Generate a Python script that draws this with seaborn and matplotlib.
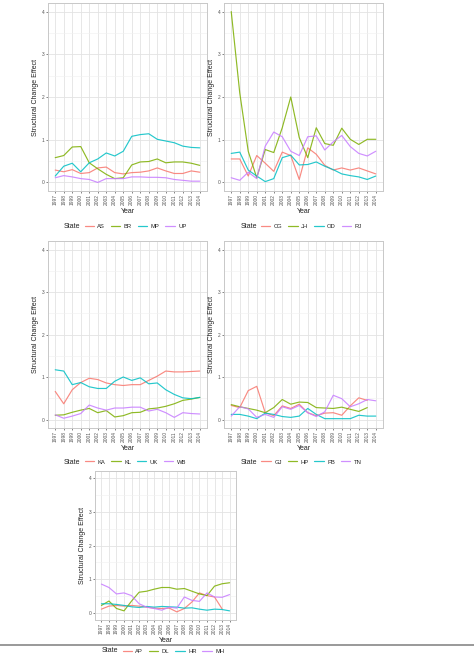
import numpy as np
import pandas as pd
import matplotlib.pyplot as plt
from matplotlib.lines import Line2D
from matplotlib.ticker import MultipleLocator
import seaborn as sns

years = list(range(1997, 2015))
nan = np.nan

# panel 1
AS = [0.29, 0.25, 0.30, 0.21, 0.23, 0.34, 0.36, 0.23, 0.20, 0.23, 0.24, 0.27, 0.34, 0.27, 0.21, 0.21, 0.27, 0.24]
BR = [0.58, 0.63, 0.83, 0.84, 0.46, 0.32, 0.19, 0.09, 0.11, 0.41, 0.48, 0.49, 0.55, 0.46, 0.48, 0.48, 0.45, 0.40]
MP = [0.15, 0.38, 0.45, 0.25, 0.46, 0.55, 0.69, 0.62, 0.73, 1.08, 1.12, 1.14, 1.01, 0.97, 0.93, 0.85, 0.82, 0.81]
UP = [0.11, 0.16, 0.13, 0.09, 0.07, 0.00, 0.09, 0.09, 0.09, 0.13, 0.13, 0.12, 0.12, 0.11, 0.07, 0.05, 0.03, 0.03]

# panel 2
CG = [0.55, 0.55, 0.15, 0.63, 0.45, 0.26, 0.71, 0.63, 0.07, 0.81, 0.66, 0.40, 0.29, 0.34, 0.29, 0.34, 0.27, 0.20]
JH = [4.00, 2.10, 0.73, 0.11, 0.77, 0.70, 1.28, 2.00, 1.05, 0.58, 1.28, 0.91, 0.87, 1.27, 1.01, 0.89, 1.01, 1.01]
OD = [0.68, 0.71, 0.29, 0.15, 0.02, 0.09, 0.58, 0.64, 0.41, 0.42, 0.48, 0.38, 0.30, 0.20, 0.16, 0.13, 0.07, 0.15]
RJ = [0.11, 0.05, 0.24, 0.09, 0.85, 1.18, 1.07, 0.73, 0.63, 1.07, 1.09, 0.76, 0.95, 1.10, 0.84, 0.68, 0.62, 0.73]

# panel 3
KA = [0.66, 0.37, 0.70, 0.87, 0.97, 0.94, 0.86, 0.82, 0.80, 0.82, 0.82, 0.92, 1.02, 1.14, 1.12, 1.12, 1.13, 1.14]
KL = [0.10, 0.11, 0.17, 0.22, 0.26, 0.16, 0.21, 0.06, 0.09, 0.16, 0.17, 0.25, 0.27, 0.31, 0.37, 0.45, 0.48, 0.52]
UK = [1.17, 1.14, 0.82, 0.87, 0.77, 0.73, 0.73, 0.90, 1.00, 0.92, 0.98, 0.84, 0.86, 0.70, 0.59, 0.51, 0.49, 0.52]
WB = [0.11, 0.03, 0.08, 0.14, 0.34, 0.27, 0.22, 0.27, 0.27, 0.29, 0.29, 0.20, 0.24, 0.16, 0.05, 0.16, 0.14, 0.13]

# panel 4
GJ = [0.33, 0.28, 0.68, 0.78, 0.16, 0.09, 0.32, 0.26, 0.36, 0.16, 0.09, 0.15, 0.16, 0.10, 0.32, 0.51, 0.45, nan]
HP = [0.35, 0.30, 0.26, 0.22, 0.16, 0.28, 0.47, 0.36, 0.41, 0.40, 0.28, 0.27, 0.26, 0.29, 0.24, 0.19, 0.28, nan]
PB = [0.12, 0.12, 0.08, 0.02, 0.15, 0.12, 0.07, 0.05, 0.08, 0.26, 0.12, 0.02, 0.02, 0.02, 0.02, 0.10, 0.08, 0.08]
TN = [0.08, 0.30, 0.25, 0.05, 0.12, 0.05, 0.30, 0.24, 0.33, 0.16, 0.07, 0.18, 0.57, 0.49, 0.30, 0.37, 0.47, 0.44]

# panel 5
AP = [0.12, 0.21, 0.23, 0.21, 0.23, 0.21, 0.18, 0.15, 0.14, 0.15, 0.04, 0.14, 0.33, 0.60, 0.52, 0.48, 0.13, nan]
DL = [0.23, 0.36, 0.14, 0.07, 0.36, 0.62, 0.65, 0.71, 0.76, 0.76, 0.71, 0.73, 0.65, 0.57, 0.52, 0.80, 0.87, 0.90]
HR = [0.28, 0.28, 0.26, 0.23, 0.19, 0.17, 0.20, 0.18, 0.20, 0.19, 0.18, 0.15, 0.16, 0.12, 0.09, 0.12, 0.11, 0.07]
MH = [0.86, 0.76, 0.57, 0.60, 0.52, 0.28, 0.18, 0.14, 0.09, 0.18, 0.15, 0.48, 0.38, 0.35, 0.60, 0.48, 0.47, 0.55]

panels = [
    {"AS": AS, "BR": BR, "MP": MP, "UP": UP},
    {"CG": CG, "JH": JH, "OD": OD, "RJ": RJ},
    {"KA": KA, "KL": KL, "UK": UK, "WB": WB},
    {"GJ": GJ, "HP": HP, "PB": PB, "TN": TN},
    {"AP": AP, "DL": DL, "HR": HR, "MH": MH},
]

palette = ["#F8766D", "#7CAE00", "#00BFC4", "#C77CFF"]

sns.set_style("white")
plt.rcParams["font.family"] = ["Liberation Sans", "DejaVu Sans"]

W, H = 474, 656
fig = plt.figure(figsize=(W / 100, H / 100), dpi=100)

# [left, top, right, bottom] in pixels, legend y in pixels
boxes = [
    (48, 3, 207, 191, 226),
    (224, 3, 383, 191, 226),
    (48, 241, 207, 428, 462),
    (224, 241, 383, 428, 462),
    (95, 471, 236, 620, 651),
]

legends = []
for data, (l, t, r, b, ly) in zip(panels, boxes):
    ax = fig.add_axes([l / W, 1 - b / H, (r - l) / W, (b - t) / H])
    df = pd.DataFrame({"Year": years, **data}).melt(id_vars="Year", var_name="State", value_name="Effect")
    sns.lineplot(data=df, x="Year", y="Effect", hue="State", palette=palette,
                 linewidth=0.85, alpha=0.85, ax=ax, legend=False)
    ax.set_xlim(1997 - 0.85, 2014 + 0.85)
    ax.set_ylim(-0.2, 4.2)
    ax.set_xticks(years)
    ax.set_xticklabels([str(y) for y in years], rotation=90)
    ax.set_yticks([0, 1, 2, 3, 4])
    ax.yaxis.set_minor_locator(MultipleLocator(0.5))
    ax.grid(True, which="major", color="#e3e3e3", linewidth=0.6)
    ax.grid(True, which="minor", axis="y", color="#f0f0f0", linewidth=0.4)
    ax.set_axisbelow(True)
    for s in ax.spines.values():
        s.set_color("#c8c8c8")
        s.set_linewidth(0.7)
    ax.tick_params(axis="both", which="major", labelsize=3.5, colors="#555555",
                   length=1.5, width=0.5, pad=1.0, bottom=True, left=True)
    ax.tick_params(axis="both", which="minor", length=0)
    ax.set_xlabel("Year", fontsize=5.0, labelpad=1.5, color="#222222")
    ax.set_ylabel("Structural Change Effect", fontsize=5.0, labelpad=2, color="#222222")

    handles = [Line2D([], [], color=c, lw=0.9, alpha=0.85) for c in palette]
    leg = fig.legend(handles, list(data.keys()), ncol=4, frameon=False,
                     loc="center", bbox_to_anchor=(((l + r) / 2 + 8) / W, 1 - ly / H),
                     fontsize=4.2, handlelength=1.6, handletextpad=0.6, columnspacing=1.0)
    legends.append(leg)

fig.add_artist(Line2D([0, 1], [1 - 645 / H, 1 - 645 / H], color="#888888", lw=1.2,
                      transform=fig.transFigure))

fig.canvas.draw()
for leg in legends:
    bb = leg.get_window_extent().transformed(fig.transFigure.inverted())
    fig.text(bb.x0 - 0.004, (bb.y0 + bb.y1) / 2, "State", fontsize=5.0,
             ha="right", va="center", color="#222222")

fig.savefig("out.png", dpi=100)
